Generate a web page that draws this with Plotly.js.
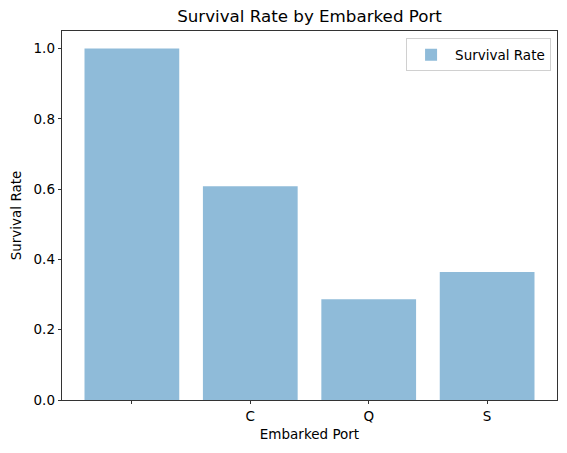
<!DOCTYPE html>
<html>
<head>
<meta charset="utf-8">
<script src="https://cdn.plot.ly/plotly-3.0.1.min.js"></script>
<style>
  html, body { margin:0; padding:0; background:#fff; }
  #chart { width:567px; height:453px; }
</style>
</head>
<body>
<div id="chart"></div>
<script>
// embarked ports (first one is the blank/missing port) and survival rates
var ports = ['', 'C', 'Q', 'S'];
var survivalRate = [1.0, 0.608, 0.287, 0.364];

var positions = ports.map(function(p, i){ return i; });

var trace = {
    x: positions,
    y: survivalRate,
    type: 'bar',
    name: 'Survival Rate',
    width: 0.8,
    marker: { color: 'rgba(31,119,180,0.5)', line: { width: 0 } },
    showlegend: true
};

var font = { family: 'DejaVu Sans, sans-serif', size: 13.5, color: '#000' };

var layout = {
    width: 567,
    height: 453,
    margin: { l: 61.5, r: 10, t: 31, b: 53 },
    paper_bgcolor: '#fff',
    plot_bgcolor: '#fff',
    font: font,
    title: {
        text: 'Survival Rate by Embarked Port',
        font: { family: 'DejaVu Sans, sans-serif', size: 16.7, color: '#000' },
        x: 0.5, xref: 'paper', y: 0.965, yref: 'container', yanchor: 'middle'
    },
    xaxis: {
        range: [-0.59, 3.59],
        tickvals: positions,
        ticktext: ports,
        ticks: 'outside', ticklen: 3.5, tickwidth: 0.8, tickcolor: '#000',
        showline: true, linecolor: '#000', linewidth: 0.8, mirror: true,
        showgrid: false, zeroline: false,
        title: { text: 'Embarked Port', font: font, standoff: 6 }
    },
    yaxis: {
        range: [0, 1.05],
        dtick: 0.2,
        tickformat: '.1f',
        ticks: 'outside', ticklen: 3.5, tickwidth: 0.8, tickcolor: '#000',
        showline: true, linecolor: '#000', linewidth: 0.8, mirror: true,
        showgrid: false, zeroline: false,
        title: { text: 'Survival Rate', font: font, standoff: 8 }
    },
    showlegend: true,
    legend: {
        x: 0.988, xanchor: 'right', y: 0.98, yanchor: 'top',
        bordercolor: '#d0d0d0', borderwidth: 1,
        bgcolor: 'rgba(255,255,255,0.8)',
        itemwidth: 38,
        font: font
    },
    bargap: 0.2
};

Plotly.newPlot('chart', [trace], layout, { displayModeBar: false, staticPlot: true });
</script>
</body>
</html>
